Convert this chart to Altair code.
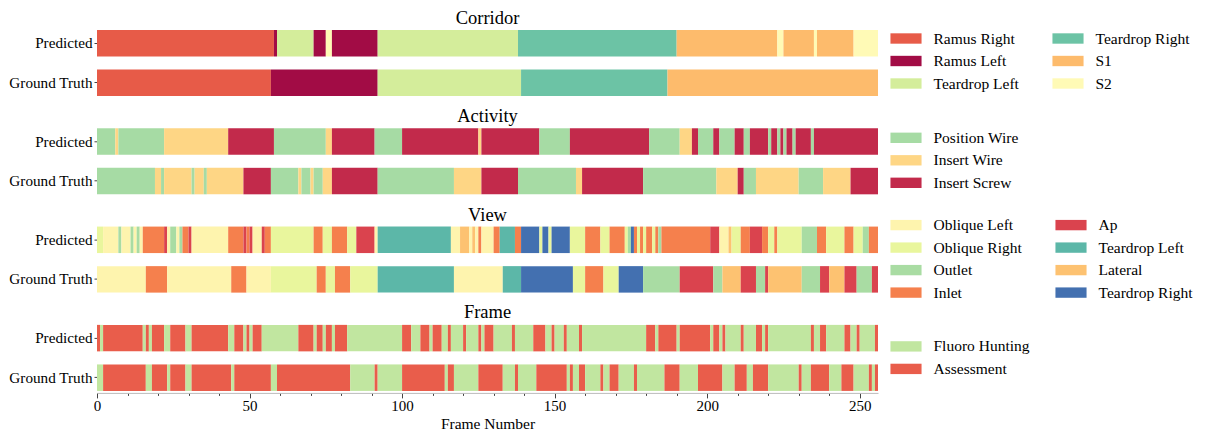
import altair as alt
import pandas as pd

FONT = "Liberation Serif"
N_FRAMES = 256
ROWS = ["Predicted", "Ground Truth"]
X_TICKS = list(range(0, 251, 10))

# ---------------- Corridor ----------------
CORRIDOR_NAMES = {"RR": "Ramus Right", "RL": "Ramus Left", "TL": "Teardrop Left",
                  "TR": "Teardrop Right", "S1": "S1", "S2": "S2"}
CORRIDOR_ORDER = ["Ramus Right", "Ramus Left", "Teardrop Left", "Teardrop Right", "S1", "S2"]
CORRIDOR_COLORS = ["#e75b48", "#a20c45", "#d4ed9b", "#6cc3a5", "#fdbb6c", "#fffab6"]
CORRIDOR_PRED_LABELS = ["RR", "RL", "TL", "RL", "S2", "RL", "TL", "TR", "S1", "S2", "S1", "S2", "S1", "S2"]
CORRIDOR_PRED_ENDS = [58, 59, 71, 75, 77, 92, 138, 190, 223, 225, 235, 236, 248, 256]
CORRIDOR_GT_LABELS = ["RR", "RL", "TL", "TR", "S1"]
CORRIDOR_GT_ENDS = [57, 92, 139, 187, 256]

# ---------------- Activity ----------------
ACTIVITY_NAMES = {"PW": "Position Wire", "IW": "Insert Wire", "IS": "Insert Screw"}
ACTIVITY_ORDER = ["Position Wire", "Insert Wire", "Insert Screw"]
ACTIVITY_COLORS = ["#a6dba4", "#fed685", "#c22a4b"]
ACTIVITY_PRED_LABELS = ["PW", "IW", "PW", "IW", "IS", "PW", "IW", "IS", "PW", "IS", "IW", "IS", "PW", "IS",
                        "PW", "IW", "IS", "PW", "IS", "PW", "IS", "PW", "IS", "PW", "IS", "PW", "IS", "PW",
                        "IS", "PW", "IS", "PW", "IS"]
ACTIVITY_PRED_ENDS = [6, 7, 22, 43, 58, 75, 77, 91, 100, 125, 126, 145, 155, 181,
                      191, 195, 197, 202, 204, 209, 212, 214, 220, 221, 223, 224, 225, 226,
                      228, 229, 234, 235, 256]
ACTIVITY_GT_LABELS = ["PW", "IW", "PW", "IW", "PW", "IW", "PW", "IW", "IS", "PW", "IW", "PW", "IW", "PW",
                      "IW", "IS", "PW", "IW", "IS", "PW", "IW", "IS", "PW", "IW", "IS", "PW", "IW", "PW",
                      "IW", "IS"]
ACTIVITY_GT_ENDS = [19, 21, 22, 31, 32, 35, 36, 48, 57, 66, 67, 70, 71, 74,
                    77, 92, 117, 126, 138, 157, 159, 179, 203, 210, 212, 216, 230, 238,
                    247, 256]

# ---------------- View ----------------
VIEW_NAMES = {"OL": "Oblique Left", "OR": "Oblique Right", "OU": "Outlet", "IN": "Inlet",
              "AP": "Ap", "TL": "Teardrop Left", "LA": "Lateral", "TR": "Teardrop Right"}
VIEW_ORDER = ["Oblique Left", "Oblique Right", "Outlet", "Inlet", "Ap", "Teardrop Left",
              "Lateral", "Teardrop Right"]
VIEW_COLORS = ["#fef4ae", "#e9f69d", "#a9dca3", "#f5804d", "#da434e", "#5cb7a8", "#fdc271", "#4370b0"]
VIEW_PRED_LABELS = ["OR", "OL", "OU", "OL", "OU", "OL", "OU", "OL", "IN", "AP", "OL", "OU", "OL", "OU",
                    "IN", "AP", "OL", "IN", "AP", "IN", "AP", "OL", "AP", "IN", "OR", "IN", "OR", "IN",
                    "OR", "AP", "OL", "TL", "OL", "LA", "OL", "LA", "OL", "IN", "OL", "IN", "TL", "IN",
                    "TR", "OR", "TR", "OR", "TR", "OR", "IN", "OR", "IN", "OR", "OU", "TR", "IN", "OR",
                    "IN", "OR", "IN", "OR", "IN", "OU", "IN", "AP", "OL", "LA", "OR", "IN", "AP", "IN",
                    "OR", "IN", "OR", "OU", "IN", "OR", "IN", "OR", "OU", "IN"]
VIEW_PRED_ENDS = [2, 7, 8, 11, 12, 13, 14, 15, 22, 23, 24, 26, 27, 28,
                  30, 31, 43, 48, 49, 50, 51, 54, 55, 57, 71, 74, 77, 82,
                  85, 91, 92, 116, 119, 122, 123, 124, 125, 126, 130, 132, 137, 139,
                  145, 146, 148, 149, 155, 160, 165, 168, 173, 174, 175, 176, 177, 178,
                  179, 180, 182, 183, 184, 185, 201, 204, 207, 208, 211, 214, 218, 220,
                  222, 223, 231, 236, 239, 245, 248, 251, 253, 256]
VIEW_GT_LABELS = ["OL", "IN", "OL", "IN", "OL", "OR", "IN", "OR", "IN", "OR", "TL", "OL", "TL", "TR",
                  "OR", "IN", "OR", "TR", "OU", "AP", "OU", "LA", "AP", "OU", "AP", "LA", "OU", "AP",
                  "LA", "AP", "OU", "AP"]
VIEW_GT_ENDS = [16, 23, 44, 49, 57, 72, 75, 78, 83, 92, 117, 133, 139, 156,
                160, 166, 171, 179, 191, 202, 205, 211, 216, 219, 220, 231, 237, 240,
                245, 249, 254, 256]

# ---------------- Frame ----------------
FRAME_NAMES = {"FH": "Fluoro Hunting", "AS": "Assessment"}
FRAME_ORDER = ["Fluoro Hunting", "Assessment"]
FRAME_COLORS = ["#c1e6a0", "#e95d4b"]
FRAME_PRED_LABELS = ["AS", "FH"] * 37 + ["AS"]
FRAME_PRED_ENDS = [1, 2, 15, 16, 17, 18, 22, 24, 29, 31, 43, 45, 48, 49,
                   50, 51, 54, 66, 71, 72, 74, 75, 77, 78, 82, 100, 103, 106,
                   109, 110, 113, 115, 116, 120, 121, 125, 126, 127, 130, 136, 137, 143,
                   147, 149, 150, 153, 154, 158, 159, 180, 183, 184, 190, 191, 201, 202,
                   204, 205, 206, 211, 212, 216, 218, 219, 220, 234, 235, 237, 239, 245,
                   247, 249, 250, 255, 256]
FRAME_GT_LABELS = ["FH", "AS"] * 26
FRAME_GT_ENDS = [2, 16, 18, 23, 24, 29, 31, 44, 45, 57, 59, 83, 91, 92,
                 100, 114, 115, 117, 125, 133, 137, 138, 144, 154, 155, 156, 158, 160,
                 165, 166, 168, 171, 176, 177, 186, 191, 197, 205, 209, 213, 215, 220,
                 230, 231, 234, 240, 244, 248, 253, 254, 255, 256]


def segments(row, codes, ends, names):
    recs = []
    start = 0
    for code, end in zip(codes, ends):
        recs.append({"row": row, "label": names[code], "start": start, "end": end})
        start = end
    return recs


def panel(title, records, order, colors, columns, legend_y, title_offset=1, bottom=False):
    df = pd.DataFrame(records)
    if bottom:
        xaxis = alt.Axis(
            values=X_TICKS,
            labelExpr="datum.value % 50 === 0 ? datum.label : ''",
            tickSize={"condition": {"test": "datum.value % 50 === 0", "value": 5}, "value": 2.5},
            tickColor="#444444",
            domainColor="#bbbbbb",
            labelFontSize=15,
            labelPadding=1,
            labelOverlap=False,
            labelFlush=False,
            grid=False,
            title="Frame Number",
            titleFontSize=15.5,
            titleFontWeight="normal",
            titlePadding=3,
        )
    else:
        xaxis = None
    return (
        alt.Chart(df, title=alt.Title(title, offset=title_offset))
        .mark_bar()
        .encode(
            x=alt.X("start:Q", scale=alt.Scale(domain=[0, N_FRAMES], nice=False, zero=False), axis=xaxis),
            x2="end:Q",
            y=alt.Y(
                "row:N",
                sort=ROWS,
                scale=alt.Scale(paddingInner=0.33, paddingOuter=0.05),
                axis=alt.Axis(title=None, domain=False, tickSize=3, tickColor="#444444",
                              labelFontSize=15.2, labelPadding=2),
            ),
            color=alt.Color(
                "label:N",
                scale=alt.Scale(domain=order, range=colors),
                legend=alt.Legend(
                    title=None,
                    orient="none",
                    legendX=798.5,
                    legendY=legend_y,
                    columns=columns,
                    symbolType="M-1.5,-0.5H1.5V0.5H-1.5Z",
                    symbolSize=430,
                    symbolStrokeWidth=0,
                    symbolOpacity=1,
                    labelFont=FONT,
                    labelFontSize=15.5,
                    labelOffset=17,
                    labelLimit=0,
                    rowPadding=3.5,
                    columnPadding=32,
                ),
            ),
        )
        .properties(width=781, height=70)
    )


corridor = panel(
    "Corridor",
    segments("Predicted", CORRIDOR_PRED_LABELS, CORRIDOR_PRED_ENDS, CORRIDOR_NAMES)
    + segments("Ground Truth", CORRIDOR_GT_LABELS, CORRIDOR_GT_ENDS, CORRIDOR_NAMES),
    CORRIDOR_ORDER, CORRIDOR_COLORS, 2, 0,
)
activity = panel(
    "Activity",
    segments("Predicted", ACTIVITY_PRED_LABELS, ACTIVITY_PRED_ENDS, ACTIVITY_NAMES)
    + segments("Ground Truth", ACTIVITY_GT_LABELS, ACTIVITY_GT_ENDS, ACTIVITY_NAMES),
    ACTIVITY_ORDER, ACTIVITY_COLORS, 1, 1,
)
view = panel(
    "View",
    segments("Predicted", VIEW_PRED_LABELS, VIEW_PRED_ENDS, VIEW_NAMES)
    + segments("Ground Truth", VIEW_GT_LABELS, VIEW_GT_ENDS, VIEW_NAMES),
    VIEW_ORDER, VIEW_COLORS, 2, -10, title_offset=-10,
)
frame = panel(
    "Frame",
    segments("Predicted", FRAME_PRED_LABELS, FRAME_PRED_ENDS, FRAME_NAMES)
    + segments("Ground Truth", FRAME_GT_LABELS, FRAME_GT_ENDS, FRAME_NAMES),
    FRAME_ORDER, FRAME_COLORS, 1, 13, bottom=True,
)

chart = (
    alt.vconcat(corridor, activity, view, frame, spacing=28.3, bounds="flush")
    .resolve_scale(color="independent")
    .properties(padding={"left": 0, "top": 0, "right": 0, "bottom": 0})
    .configure_view(stroke=None)
    .configure_axis(labelFont=FONT, titleFont=FONT, labelColor="black", titleColor="black")
    .configure_title(font=FONT, fontSize=18.5, fontWeight="normal", color="black",
                     anchor="middle", frame="group")
    .configure_legend(labelColor="black")
)

chart.save("out.html", embed_options={"renderer": "svg", "actions": False})
